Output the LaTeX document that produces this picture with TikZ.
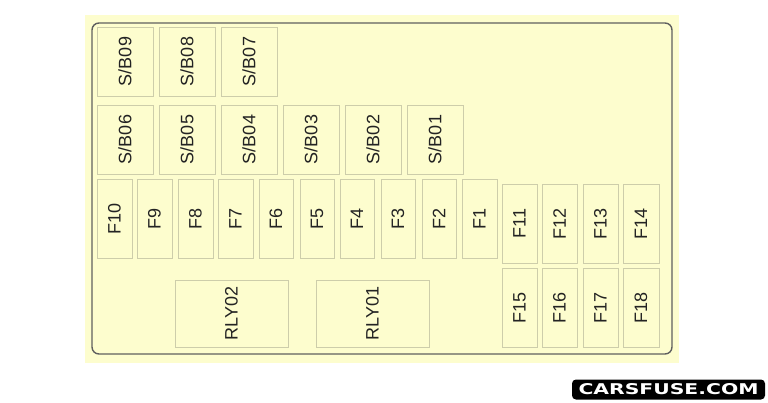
\documentclass[tikz,border=0pt]{standalone}
\usepackage{fontspec}
\setmainfont{Liberation Sans}
\newfontfamily\wmfont{DejaVu Sans}
\definecolor{bgyel}{RGB}{253,253,206}
\definecolor{boxline}{RGB}{205,205,170}
\definecolor{frameline}{RGB}{95,95,95}
\definecolor{txt}{RGB}{35,35,35}
\tikzset{
  fbox/.style={draw=boxline, line width=0.9pt, fill=bgyel, inner sep=0pt, text=txt, font=\fontsize{18}{18}\selectfont},
  frame/.style={draw=frameline, line width=1.4pt, rounded corners=7pt},
}
\newcommand{\fbx}[6]{% name, x1, y1, x2, y2, text
  \node[fbox, minimum width={(#4-#2)*1pt}, minimum height={(#5-#3)*1pt}] (#1) at ({(#2+#4)/2},{(#3+#5)/2}) {\rotatebox{90}{#6}};}
\begin{document}
\begin{tikzpicture}[x=1pt,y=-1pt]
\useasboundingbox (0,0) rectangle (768,402);
\fill[white] (0,0) rectangle (768,402);
\fill[bgyel] (85,15) rectangle (679,363);
\draw[frame] (92,23) rectangle (672,354);
% S/B row 1
\fbx{sb09}{97}{27}{153}{96}{S/B09}
\fbx{sb08}{159}{27}{215}{96}{S/B08}
\fbx{sb07}{221}{27}{277}{96}{S/B07}
% S/B row 2
\fbx{sb06}{97}{105}{153}{174}{S/B06}
\fbx{sb05}{159}{105}{215}{174}{S/B05}
\fbx{sb04}{221}{105}{277}{174}{S/B04}
\fbx{sb03}{283}{105}{339}{174}{S/B03}
\fbx{sb02}{345}{105}{401}{174}{S/B02}
\fbx{sb01}{407}{105}{463}{174}{S/B01}
% F row
\fbx{f10}{97}{179}{132}{258}{F10}
\fbx{f9}{137}{179}{172}{258}{F9}
\fbx{f8}{178}{179}{213}{258}{F8}
\fbx{f7}{218}{179}{253}{258}{F7}
\fbx{f6}{259}{179}{293}{258}{F6}
\fbx{f5}{300}{179}{334}{258}{F5}
\fbx{f4}{340}{179}{374}{258}{F4}
\fbx{f3}{381}{179}{415}{258}{F3}
\fbx{f2}{422}{179}{456}{258}{F2}
\fbx{f1}{462}{179}{497}{258}{F1}
% right block
\fbx{f11}{502}{184}{537}{263}{F11}
\fbx{f12}{542}{184}{577}{263}{F12}
\fbx{f13}{583}{184}{618}{263}{F13}
\fbx{f14}{623}{184}{659}{263}{F14}
\fbx{f15}{502}{268}{537}{347}{F15}
\fbx{f16}{542}{268}{577}{347}{F16}
\fbx{f17}{583}{268}{618}{347}{F17}
\fbx{f18}{623}{268}{659}{347}{F18}
% relays
\fbx{rly02}{175}{280}{288}{347}{RLY02}
\fbx{rly01}{316}{280}{429}{347}{RLY01}
% watermark
\node[fill=black, rounded corners=4pt, minimum width=193pt, minimum height=20pt, inner sep=0pt, text=white] (wm) at (668.5,389.5) {\resizebox{180pt}{11pt}{\wmfont\bfseries CARSFUSE.COM}};
\end{tikzpicture}
\end{document}
